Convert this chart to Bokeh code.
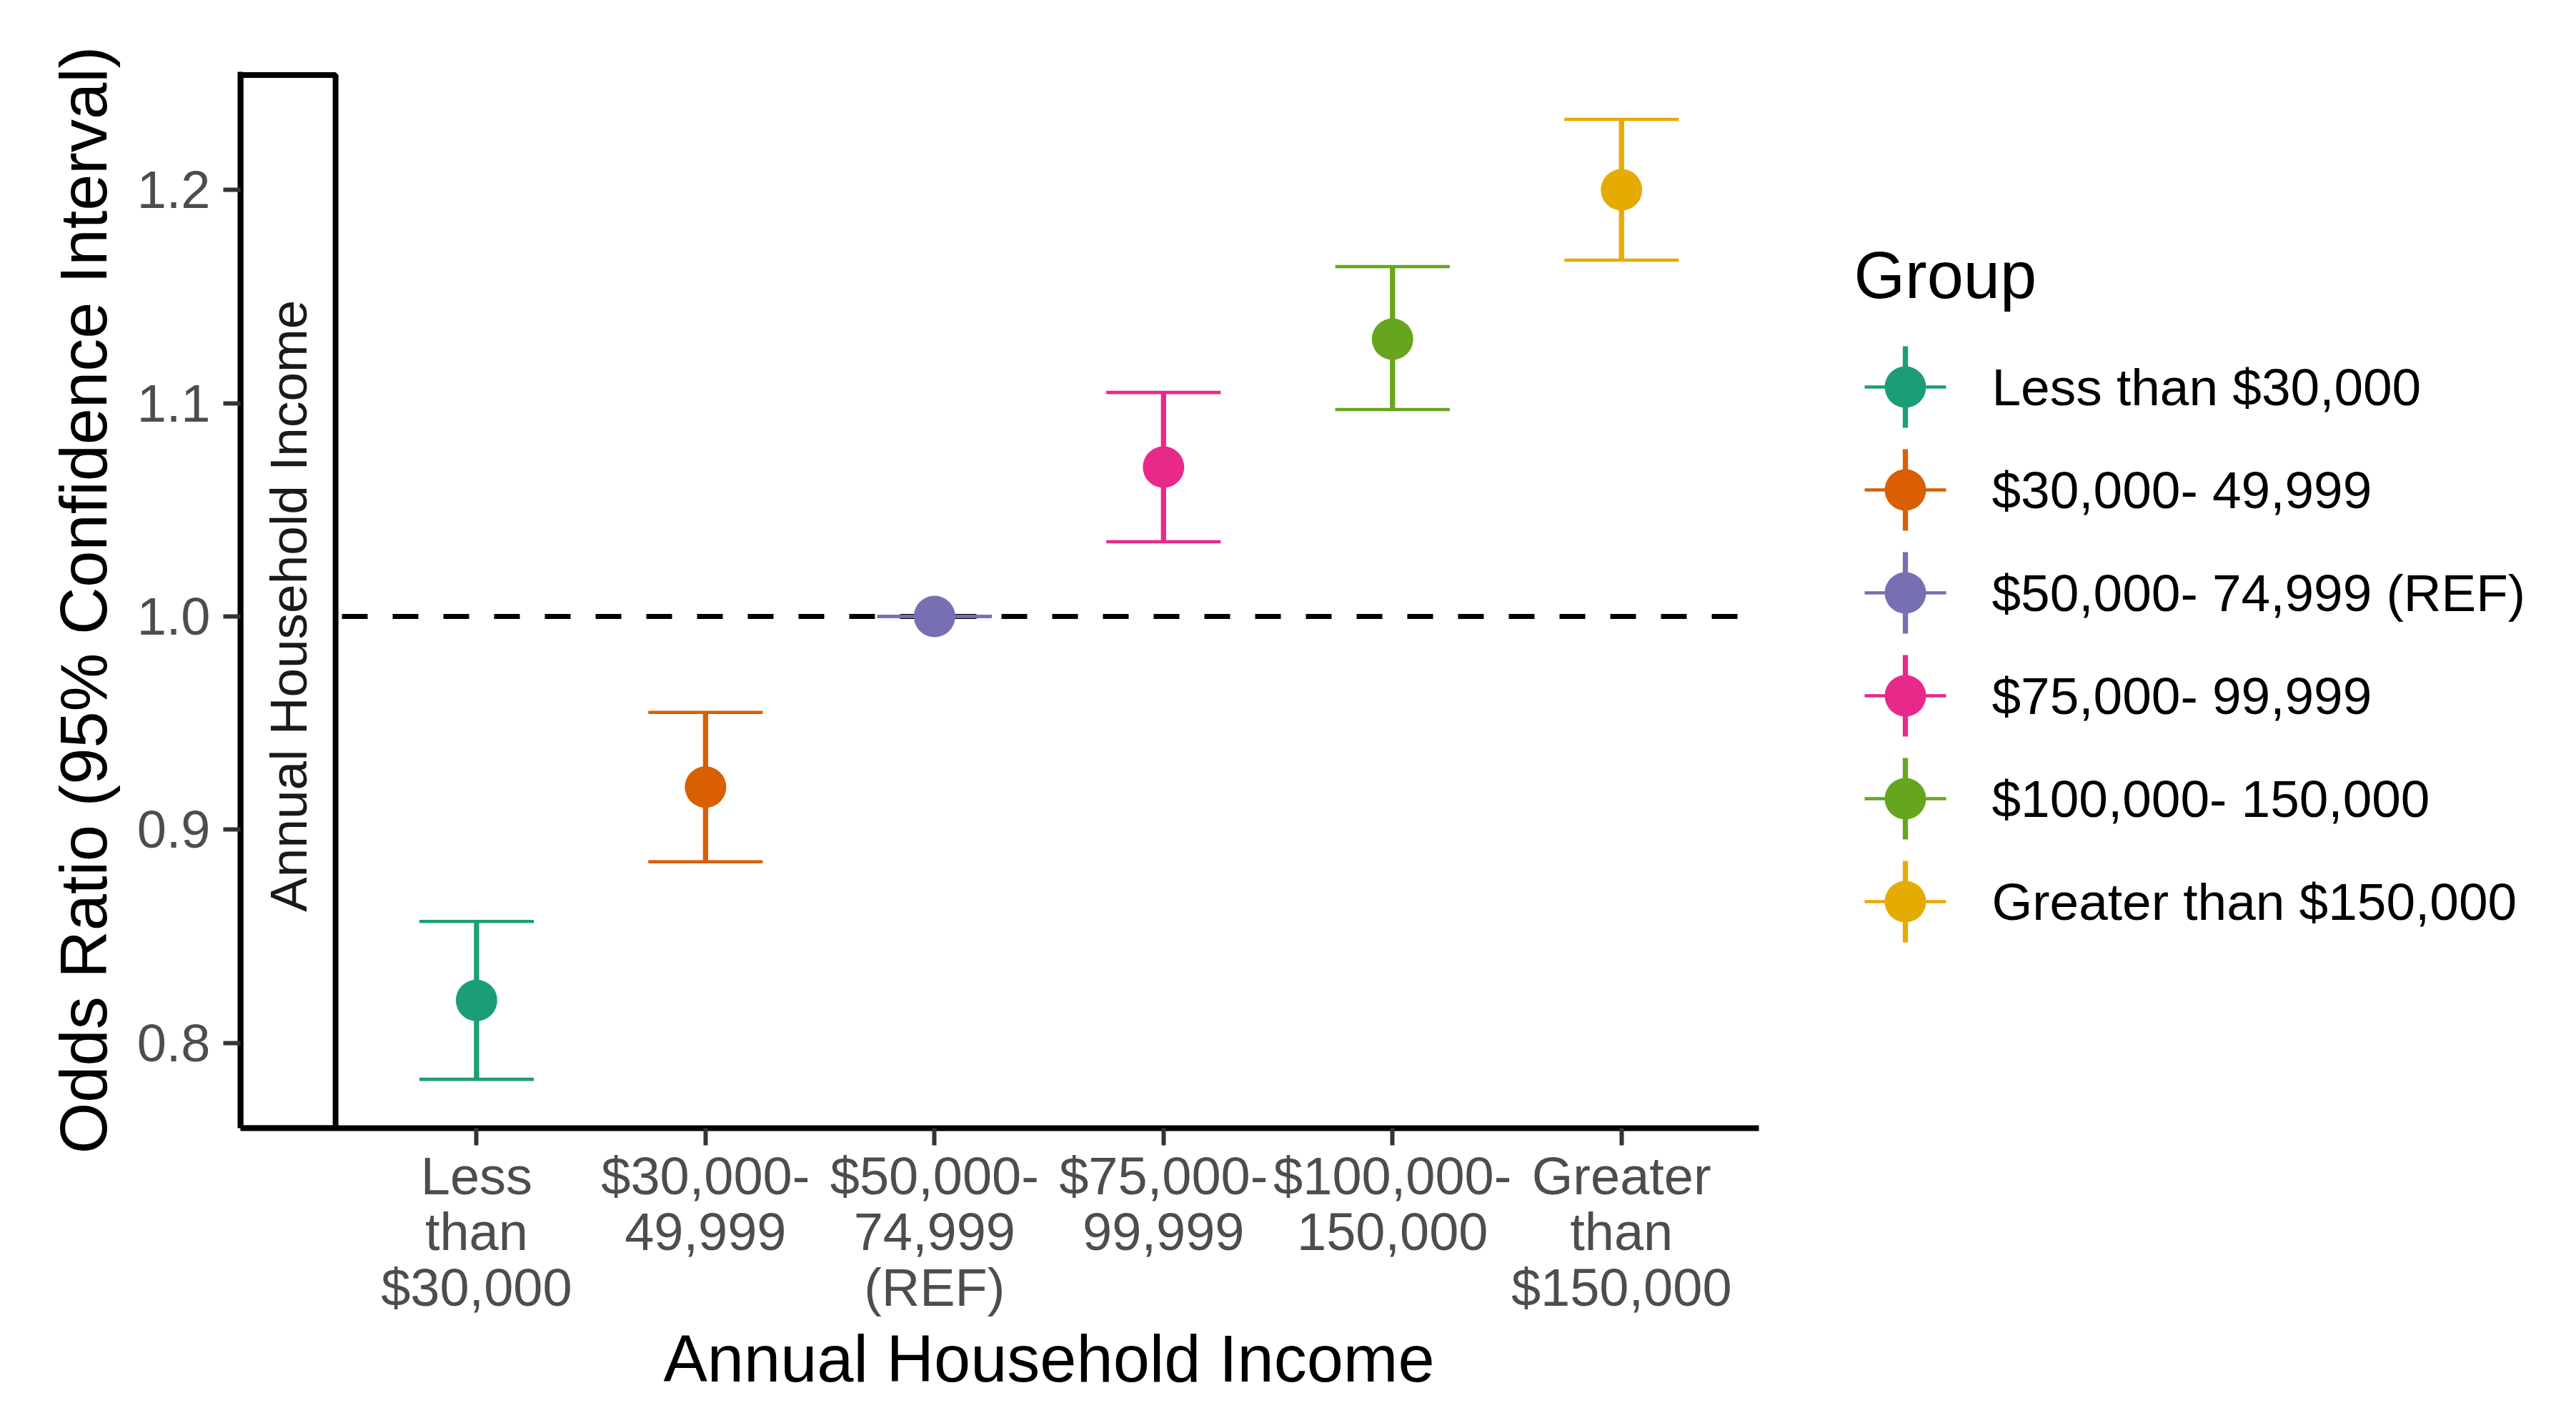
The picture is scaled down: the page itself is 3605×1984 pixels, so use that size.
import numpy as np
from bokeh.plotting import figure
from bokeh.models import ColumnDataSource, Range1d, FixedTicker, Span, PrintfTickFormatter, Title
from bokeh.layouts import row
from bokeh.embed import file_html
from bokeh.resources import INLINE
from bokeh.core.properties import value

# ---------------- data ----------------
groups = ["Less than $30,000", "$30,000- 49,999", "$50,000- 74,999 (REF)",
          "$75,000- 99,999", "$100,000- 150,000", "Greater than $150,000"]
x_tick_labels = ["Less\nthan\n$30,000", "$30,000-\n49,999", "$50,000-\n74,999\n(REF)",
                 "$75,000-\n99,999", "$100,000-\n150,000", "Greater\nthan\n$150,000"]
odds_ratio = [0.82, 0.92, 1.00, 1.07, 1.13, 1.20]
ci_lower = [0.783, 0.885, 1.000, 1.035, 1.097, 1.167]
ci_upper = [0.857, 0.955, 1.000, 1.105, 1.164, 1.233]
colors = ["#1B9E77", "#D95F02", "#7570B3", "#E7298A", "#66A61E", "#E6AB02"]
y_ticks = [0.8, 0.9, 1.0, 1.1, 1.2]
reference_value = 1.0
x_title = "Annual Household Income"
y_title = "Odds Ratio (95% Confidence Interval)"
strip_label = "Annual Household Income"
legend_title = "Group"

FONT = "Liberation Sans"
H = 1965
MAIN_W = 2530
LEG_W = 1055
FRAME_LEFT = 336
FRAME_W = 2125
FRAME_TOP = 100
FRAME_H = 1478

n = len(groups)
pos = np.arange(1, n + 1)
cap_half = 0.25

src = ColumnDataSource(dict(
    x=pos, y=odds_ratio, lo=ci_lower, hi=ci_upper,
    cap_l=pos - cap_half, cap_r=pos + cap_half,
    color=colors, group=groups,
))

x_start, x_end = -0.031, 6.6
y_start, y_end = 0.7601, 1.2553
strip_right = 0.3844
strip_top = 1.2538

p = figure(width=MAIN_W, height=H,
           x_range=Range1d(x_start, x_end), y_range=Range1d(y_start, y_end),
           output_backend="svg", toolbar_location=None,
           min_border_left=FRAME_LEFT, min_border_top=FRAME_TOP,
           min_border_right=MAIN_W - FRAME_LEFT - FRAME_W,
           min_border_bottom=H - FRAME_TOP - FRAME_H)
p.background_fill_color = "white"
p.border_fill_color = "white"
p.outline_line_color = None
p.xgrid.visible = False
p.ygrid.visible = False

# reference line
span = Span(location=reference_value, dimension="width", line_color="black",
            line_width=7, line_dash="36 35", level="underlay")
p.add_layout(span)

# facet strip on the left of the panel
p.quad(left=x_start, right=strip_right, bottom=y_start, top=strip_top,
       fill_color="white", line_color="black", line_width=8)
p.text(x=[(x_start + strip_right) / 2], y=[(y_start + strip_top) / 2],
       text=[strip_label], angle=np.pi / 2, y_offset=6,
       text_align="center", text_baseline="middle",
       text_font=value(FONT), text_font_size=value("73px"), text_color="#1A1A1A")

# error bars
p.segment(x0="cap_l", x1="cap_r", y0="hi", y1="hi", line_color="color",
          line_width=4.6, source=src)
p.segment(x0="cap_l", x1="cap_r", y0="lo", y1="lo", line_color="color",
          line_width=4.6, source=src)
p.segment(x0="x", x1="x", y0="lo", y1="hi", line_color="color",
          line_width=7.3, source=src)
p.scatter(x="x", y="y", size=58, fill_color="color", line_color="color",
          line_width=0, source=src)

# axes
for ax in (p.xaxis[0], p.yaxis[0]):
    ax.axis_line_width = 8
    ax.axis_line_color = "black"
    ax.major_tick_line_width = 6
    ax.major_tick_line_color = "#333333"
    ax.major_tick_in = 0
    ax.major_tick_out = 24
    ax.minor_tick_line_color = None
    ax.major_label_text_font = FONT
    ax.major_label_text_font_size = "74px"
    ax.major_label_text_color = "#4D4D4D"
    ax.axis_label_text_font = FONT
    ax.axis_label_text_font_size = "92px"
    ax.axis_label_text_font_style = "normal"
    ax.axis_label_text_color = "black"

p.xaxis.ticker = FixedTicker(ticks=[int(v) for v in pos])
p.xaxis.major_label_overrides = {int(v): lab for v, lab in zip(pos, x_tick_labels)}
p.xaxis.major_label_standoff = 1
p.xaxis.major_label_text_line_height = 0.94

# x-axis title, centred on the data panel (right of the strip)
xt = Title(text=x_title, align="left", offset=592, standoff=4,
           text_font=FONT, text_font_size="92px", text_font_style="normal",
           text_color="black")
p.add_layout(xt, "below")

p.yaxis.ticker = FixedTicker(ticks=y_ticks)
p.yaxis.formatter = PrintfTickFormatter(format="%.1f")
p.yaxis.major_label_standoff = 18
p.yaxis.axis_label = y_title
p.yaxis.axis_label_standoff = 21

# ---------------- legend panel ----------------
# coordinates of this panel are page pixels (its frame is aligned with the main frame)
KEY_X = 136
TEXT_X = 257
FIRST_Y = 541
STEP = 144.0
HALF = 57
key_y = FIRST_Y + STEP * np.arange(n)

lsrc = ColumnDataSource(dict(
    kx=[KEY_X] * n, ky=key_y, hl=[KEY_X - HALF] * n, hr=[KEY_X + HALF] * n,
    vt=key_y - HALF, vb=key_y + HALF, tx=[TEXT_X] * n,
    color=colors, label=groups,
))

q = figure(width=LEG_W, height=H, x_range=Range1d(0, LEG_W),
           y_range=Range1d(FRAME_TOP + FRAME_H, FRAME_TOP),
           output_backend="svg", toolbar_location=None,
           min_border_left=0, min_border_right=0,
           min_border_top=FRAME_TOP, min_border_bottom=H - FRAME_TOP - FRAME_H,
           x_axis_location=None, y_axis_location=None)
q.outline_line_color = None
q.grid.visible = False
q.background_fill_color = "white"
q.border_fill_color = "white"

q.segment(x0="hl", x1="hr", y0="ky", y1="ky", line_color="color", line_width=4.6, source=lsrc)
q.segment(x0="kx", x1="kx", y0="vt", y1="vb", line_color="color", line_width=7.3, source=lsrc)
q.scatter(x="kx", y="ky", size=58, fill_color="color", line_color="color", line_width=0, source=lsrc)
q.text(x="tx", y="ky", text="label", text_align="left", text_baseline="middle",
       text_font=value(FONT), text_font_size=value("73px"), text_color="black", source=lsrc)
q.text(x=[64], y=[384], text=[legend_title], text_align="left", text_baseline="middle",
       text_font=value(FONT), text_font_size=value("92px"), text_color="black")

layout = row(p, q)
open("out.html", "w").write(file_html(layout, INLINE))
